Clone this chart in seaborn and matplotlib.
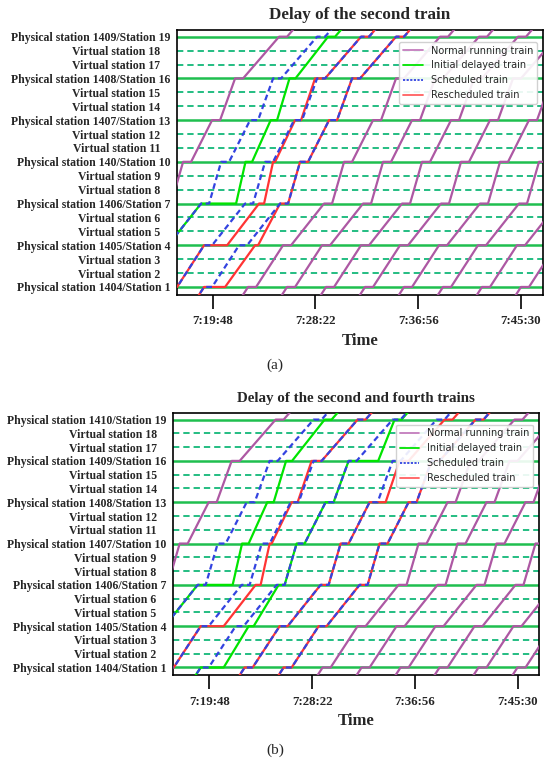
import matplotlib
matplotlib.use("Agg")
import matplotlib.pyplot as plt
import pandas as pd
import seaborn as sns
from matplotlib.lines import Line2D

# ---------------- data (times in seconds after 7:00:00) ----------------
physical = [1, 4, 7, 10, 13, 16, 19]
virtual = [2, 3, 5, 6, 8, 9, 11, 12, 14, 15, 17, 18]

labels_a = {1: "Physical station 1404/Station 1", 2: "Virtual station 2", 3: "Virtual station 3",
            4: "Physical station 1405/Station 4", 5: "Virtual station 5", 6: "Virtual station 6",
            7: "Physical station 1406/Station 7", 8: "Virtual station 8", 9: "Virtual station 9",
            10: "Physical station 140/Station 10", 11: "Virtual station 11", 12: "Virtual station 12",
            13: "Physical station 1407/Station 13", 14: "Virtual station 14", 15: "Virtual station 15",
            16: "Physical station 1408/Station 16", 17: "Virtual station 17", 18: "Virtual station 18",
            19: "Physical station 1409/Station 19"}
labels_b = {1: "Physical station 1404/Station 1", 2: "Virtual station 2", 3: "Virtual station 3",
            4: "Physical station 1405/Station 4", 5: "Virtual station 5", 6: "Virtual station 6",
            7: "Physical station 1406/Station 7", 8: "Virtual station 8", 9: "Virtual station 9",
            10: "Physical station 1407/Station 10", 11: "Virtual station 11", 12: "Virtual station 12",
            13: "Physical station 1408/Station 13", 14: "Virtual station 14", 15: "Virtual station 15",
            16: "Physical station 1409/Station 16", 17: "Virtual station 17", 18: "Virtual station 18",
            19: "Physical station 1410/Station 19"}

time_ticks = [1188, 1702, 2216, 2730]
time_labels = ["7:19:48", "7:28:22", "7:36:56", "7:45:30"]

# timetable profile between physical stations
run_times = [135, 165, 60, 105, 75, 180]
dwell = 40
lead_in = 45
lead_out = 60

# departures from station 1
normal_a = [600, 1405, 1600, 1795, 1990, 2185, 2380, 2575, 2770]
sched_a = [790, 1010, 1185]
normal_b = [600, 1795, 1990, 2185, 2380, 2575, 2770]
sched_b = [790, 1010, 1185, 1405, 1600]

# actual paths (station, time) of delayed / rescheduled trains
delayed_train2 = [(1, 750), (1, 790), (4, 925), (4, 965), (7, 1130), (7, 1305), (10, 1352), (10, 1385),
                  (13, 1478), (13, 1510), (16, 1572), (16, 1602), (19, 1765), (19, 1800)]
resched_train3 = [(1, 970), (1, 1010), (4, 1145), (4, 1260), (7, 1420), (7, 1445), (10, 1490), (10, 1500),
                  (13, 1600), (13, 1630), (16, 1700), (16, 1750), (19, 1930), (19, 1970)]
resched_train4_a = [(1, 1145), (1, 1250), (4, 1400), (4, 1415), (7, 1525), (7, 1565), (10, 1625), (10, 1665),
                    (13, 1770), (13, 1810), (16, 1885), (16, 1925), (19, 2105), (19, 2145)]
delayed_train4_b = [(1, 1145), (1, 1260), (4, 1385), (4, 1410), (7, 1535), (7, 1565), (10, 1625), (10, 1665),
                    (13, 1770), (13, 1810), (16, 1885), (16, 2033), (19, 2115), (19, 2150)]
resched_train5_b = [(1, 1365), (1, 1405), (4, 1540), (4, 1580), (7, 1745), (7, 1785), (10, 1845), (10, 1885),
                    (13, 1990), (13, 2070), (16, 2140), (16, 2185), (19, 2365), (19, 2405)]
resched_train6_b = [(1, 1560), (1, 1600), (4, 1735), (4, 1775), (7, 1940), (7, 1980), (10, 2040), (10, 2080),
                    (13, 2185), (13, 2225), (16, 2300), (16, 2340), (19, 2520), (19, 2560)]

# ---------------- helpers ----------------
def timetable(dep):
    pts = [(1, dep - dwell), (1, dep)]
    t = dep
    for st, run in zip(physical[1:], run_times):
        t += run
        pts.append((st, t))
        t += dwell
        pts.append((st, t))
    return pts


def extend(pts):
    return [(0, pts[0][1] - lead_in)] + list(pts) + [(20, pts[-1][1] + lead_out)]


def frame(paths, kind):
    rows = []
    for i, p in enumerate(paths):
        for st, t in extend(p):
            rows.append({"kind": kind, "train": f"{kind}{i}", "time": t, "station": st})
    return pd.DataFrame(rows)


panel_a = pd.concat([
    frame([timetable(d) for d in normal_a], "normal"),
    frame([delayed_train2], "delayed"),
    frame([resched_train3, resched_train4_a], "resched"),
    frame([timetable(d) for d in sched_a], "sched"),
])
panel_b = pd.concat([
    frame([timetable(d) for d in normal_b], "normal"),
    frame([delayed_train2, delayed_train4_b], "delayed"),
    frame([resched_train3, resched_train5_b, resched_train6_b], "resched"),
    frame([timetable(d) for d in sched_b], "sched"),
])

# ---------------- style ----------------
sns.set_style("white")
plt.rcParams["font.family"] = ["DejaVu Sans"]
SERIF = "Liberation Serif"

purple = "#ad58a3"
lime = "#00e400"
blue = "#3343e0"
red = "#ff3434"
st_solid = "#1fbf4f"
st_dash = "#12b878"

styles = {
    "normal": dict(color=purple, linestyle="-", zorder=3),
    "delayed": dict(color=lime, linestyle="-", zorder=4),
    "resched": dict(color=red, linestyle="-", zorder=5),
    "sched": dict(color=blue, linestyle=(0, (2.6, 1.6)), zorder=6),
}

fig = plt.figure(figsize=(5.5, 7.6), dpi=100)
ax_a = fig.add_axes([0.3213, 0.6118, 0.666, 0.3487])
ax_b = fig.add_axes([0.3151, 0.1112, 0.6658, 0.3454])


def draw(ax, df, labels, title, title_size):
    for s in range(1, 20):
        if s in physical:
            ax.axhline(s, color=st_solid, lw=1.8, zorder=1)
        else:
            ax.axhline(s, color=st_dash, lw=1.3, linestyle=(0, (3.5, 2.2)), zorder=1)
    for kind in ["normal", "delayed", "resched", "sched"]:
        sub = df[df["kind"] == kind]
        st = styles[kind]
        sns.lineplot(data=sub, x="time", y="station", units="train", estimator=None, sort=False,
                     color=st["color"], linestyle=st["linestyle"], lw=1.6, zorder=st["zorder"],
                     legend=False, ax=ax)
    ax.set_xlim(1008, 2840)
    ax.set_ylim(0.42, 19.48)
    ax.set_xticks(time_ticks)
    ax.set_xticklabels(time_labels)
    ax.set_yticks(physical)
    ax.set_yticklabels([labels[s] for s in physical])
    ax.set_yticks(virtual, minor=True)
    ax.set_yticklabels([labels[s] for s in virtual], minor=True)
    ax.tick_params(axis="y", which="major", length=3.5, width=1.2, pad=1.2, labelsize=8.5, color="black")
    ax.tick_params(axis="y", which="minor", length=0, pad=12, labelsize=8.5)
    ax.tick_params(axis="x", which="major", length=10, width=1.2, pad=4.5, labelsize=9.3, color="black",
                   bottom=True)
    for lbl in ax.get_yticklabels(which="both") + ax.get_xticklabels():
        lbl.set_fontfamily(SERIF)
        lbl.set_fontweight("bold")
    for sp in ax.spines.values():
        sp.set_color("black")
        sp.set_linewidth(1.2)
    ax.set_ylabel("")
    ax.set_xlabel("Time", fontsize=12, fontweight="bold", family=SERIF, labelpad=4)
    ax.set_title(title, fontsize=title_size, fontweight="bold", family=SERIF, pad=8)
    handles = [Line2D([], [], color="#c47cbd", lw=1.3),
               Line2D([], [], color=lime, lw=1.3),
               Line2D([], [], color=blue, lw=1.3, linestyle=(0, (1.2, 0.8))),
               Line2D([], [], color="#ff6060", lw=1.3)]
    names = ["Normal running train", "Initial delayed train", "Scheduled train", "Rescheduled train"]
    leg = ax.legend(handles, names, loc="upper right", bbox_to_anchor=(0.983, 0.956), borderaxespad=0,
                    prop={"family": "DejaVu Sans", "size": 7}, frameon=True, framealpha=0.9,
                    edgecolor="0.8", fancybox=True)
    leg.set_zorder(10)


draw(ax_a, panel_a, labels_a, "Delay of the second train", 12.3)
draw(ax_b, panel_b, labels_b, "Delay of the second and fourth trains", 10.8)

fig.text(0.5, 1 - 365 / 760, "(a)", ha="center", va="center", fontsize=11, family=SERIF)
fig.text(0.5, 1 - 750 / 760, "(b)", ha="center", va="center", fontsize=11, family=SERIF)

fig.savefig("out.png", dpi=100)
